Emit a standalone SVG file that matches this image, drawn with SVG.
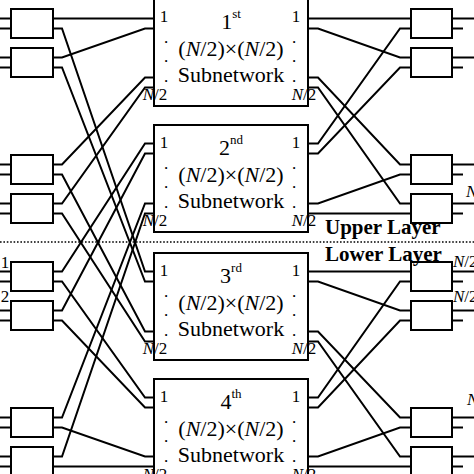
<svg xmlns="http://www.w3.org/2000/svg" width="474" height="474" viewBox="0 0 474 474">
<style>
.bx{fill:#fff;stroke:#000;stroke-width:2}
.ln{fill:none;stroke:#000;stroke-width:2}
.t{font-family:"Liberation Serif","Times New Roman",serif;fill:#000}
.c{font-size:22px;text-anchor:middle}
.s{font-size:17px}
.m{text-anchor:middle}
.i{font-style:italic}
.lay{font-size:21px;font-weight:bold}
</style>
<rect width="474" height="474" fill="#fff"/>
<line x1="0" y1="242" x2="474" y2="242" stroke="#000" stroke-width="1.5" stroke-dasharray="1.6 1.8"/>
<g id="connectors" class="ln">
<!-- left inputs -->
<path d="M0,18.5H11M0,28.5H11M0,57.5H11M0,67.5H11M0,164.5H11M0,174.5H11M0,203.5H11M0,213.5H11M0,271.5H11M0,281.5H11M0,310.5H11M0,320.5H11M0,417.5H11M0,427.5H11M0,456.5H11M0,466.5H11"/>
<!-- left switches to subnetworks -->
<path d="M53,18.5H154"/>
<path d="M53,57.5H62L145,28.5H154"/>
<path d="M53,164.5H62L145,77.5H154"/>
<path d="M53,203.5H62L145,87.5H154"/>
<path d="M53,28.5H62L145,271.5H154"/>
<path d="M53,67.5H62L145,281.5H154"/>
<path d="M53,174.5H62L145,331.5H154"/>
<path d="M53,213.5H62L145,341.5H154"/>
<path d="M53,271.5H62L145,143.5H154"/>
<path d="M53,310.5H62L145,153.5H154"/>
<path d="M53,417.5H62L145,203.5H154"/>
<path d="M53,456.5H62L145,213.5H154"/>
<path d="M53,281.5H62L145,397.5H154"/>
<path d="M53,320.5H62L145,407.5H154"/>
<path d="M53,427.5H62L145,456.5H154"/>
<path d="M53,466.5H154"/>
<!-- subnetworks to right switches -->
<path d="M308,18.5H411"/>
<path d="M308,28.5H318L400,57.5H411"/>
<path d="M308,77.5H318L400,164.5H411"/>
<path d="M308,87.5H318L400,203.5H411"/>
<path d="M308,143.5H318L400,28.5H411"/>
<path d="M308,153.5H318L400,67.5H411"/>
<path d="M308,203.5H318L400,174.5H411"/>
<path d="M308,213.5H411"/>
<path d="M308,271.5H411"/>
<path d="M308,281.5H318L400,310.5H411"/>
<path d="M308,331.5H318L400,417.5H411"/>
<path d="M308,341.5H318L400,456.5H411"/>
<path d="M308,397.5H318L400,281.5H411"/>
<path d="M308,407.5H318L400,320.5H411"/>
<path d="M308,456.5H318L400,427.5H411"/>
<path d="M308,466.5H411"/>
<!-- right outputs -->
<path d="M452,18.5H474M452,28.5H463M452,57.5H474M452,67.5H463M452,164.5H474M452,174.5H463M452,203.5H474M452,213.5H463M452,271.5H474M452,281.5H463M452,310.5H474M452,320.5H463M452,417.5H474M452,427.5H463M452,456.5H474M452,466.5H463"/>
</g>
<g id="ls1"><rect class="bx" x="11" y="9" width="42" height="29"/></g>
<g id="ls2"><rect class="bx" x="11" y="48" width="42" height="29"/></g>
<g id="ls3"><rect class="bx" x="11" y="155" width="42" height="29"/></g>
<g id="ls4"><rect class="bx" x="11" y="194" width="42" height="29"/></g>
<g id="ls5"><rect class="bx" x="11" y="262" width="42" height="29"/></g>
<g id="ls6"><rect class="bx" x="11" y="301" width="42" height="29"/></g>
<g id="ls7"><rect class="bx" x="11" y="408" width="42" height="29"/></g>
<g id="ls8"><rect class="bx" x="11" y="447" width="42" height="29"/></g>
<g id="rs1"><rect class="bx" x="411" y="9" width="41" height="29"/></g>
<g id="rs2"><rect class="bx" x="411" y="48" width="41" height="29"/></g>
<g id="rs3"><rect class="bx" x="411" y="155" width="41" height="29"/></g>
<g id="rs4"><rect class="bx" x="411" y="194" width="41" height="29"/></g>
<g id="rs5"><rect class="bx" x="411" y="262" width="41" height="29"/></g>
<g id="rs6"><rect class="bx" x="411" y="301" width="41" height="29"/></g>
<g id="rs7"><rect class="bx" x="411" y="408" width="41" height="29"/></g>
<g id="rs8"><rect class="bx" x="411" y="447" width="41" height="29"/></g>
<g id="sub1">
<rect class="bx" x="154" y="-1" width="154" height="107"/>
<text class="t c" x="231" y="29">1<tspan font-size="13" dy="-11">st</tspan></text>
<text class="t c" x="231" y="56">(<tspan class="i">N</tspan>/2)×(<tspan class="i">N</tspan>/2)</text>
<text class="t c" x="231" y="82">Subnetwork</text>
<text class="t s m" x="164" y="22">1</text><text class="t s m" x="296" y="22">1</text>
<text class="t s m" x="166" y="43">.</text><text class="t s m" x="166" y="62">.</text><text class="t s m" x="166" y="82">.</text>
<text class="t s m" x="294" y="43">.</text><text class="t s m" x="294" y="62">.</text><text class="t s m" x="294" y="82">.</text>
<text class="t s m" x="155" y="100"><tspan class="i">N</tspan>/2</text><text class="t s m" x="304" y="100"><tspan class="i">N</tspan>/2</text>
</g>
<g id="sub2">
<rect class="bx" x="154" y="125" width="154" height="107"/>
<text class="t c" x="231" y="155">2<tspan font-size="13" dy="-11">nd</tspan></text>
<text class="t c" x="231" y="182">(<tspan class="i">N</tspan>/2)×(<tspan class="i">N</tspan>/2)</text>
<text class="t c" x="231" y="208">Subnetwork</text>
<text class="t s m" x="164" y="148">1</text><text class="t s m" x="296" y="148">1</text>
<text class="t s m" x="166" y="169">.</text><text class="t s m" x="166" y="188">.</text><text class="t s m" x="166" y="208">.</text>
<text class="t s m" x="294" y="169">.</text><text class="t s m" x="294" y="188">.</text><text class="t s m" x="294" y="208">.</text>
<text class="t s m" x="155" y="226"><tspan class="i">N</tspan>/2</text><text class="t s m" x="304" y="226"><tspan class="i">N</tspan>/2</text>
</g>
<g id="sub3">
<rect class="bx" x="154" y="253" width="154" height="107"/>
<text class="t c" x="231" y="283">3<tspan font-size="13" dy="-11">rd</tspan></text>
<text class="t c" x="231" y="310">(<tspan class="i">N</tspan>/2)×(<tspan class="i">N</tspan>/2)</text>
<text class="t c" x="231" y="336">Subnetwork</text>
<text class="t s m" x="164" y="276">1</text><text class="t s m" x="296" y="276">1</text>
<text class="t s m" x="166" y="297">.</text><text class="t s m" x="166" y="316">.</text><text class="t s m" x="166" y="336">.</text>
<text class="t s m" x="294" y="297">.</text><text class="t s m" x="294" y="316">.</text><text class="t s m" x="294" y="336">.</text>
<text class="t s m" x="155" y="354"><tspan class="i">N</tspan>/2</text><text class="t s m" x="304" y="354"><tspan class="i">N</tspan>/2</text>
</g>
<g id="sub4">
<rect class="bx" x="154" y="379" width="154" height="107"/>
<text class="t c" x="231" y="409">4<tspan font-size="13" dy="-11">th</tspan></text>
<text class="t c" x="231" y="436">(<tspan class="i">N</tspan>/2)×(<tspan class="i">N</tspan>/2)</text>
<text class="t c" x="231" y="462">Subnetwork</text>
<text class="t s m" x="164" y="402">1</text><text class="t s m" x="296" y="402">1</text>
<text class="t s m" x="166" y="423">.</text><text class="t s m" x="166" y="442">.</text><text class="t s m" x="166" y="462">.</text>
<text class="t s m" x="294" y="423">.</text><text class="t s m" x="294" y="442">.</text><text class="t s m" x="294" y="462">.</text>
<text class="t s m" x="155" y="480"><tspan class="i">N</tspan>/2</text><text class="t s m" x="304" y="480"><tspan class="i">N</tspan>/2</text>
</g>
<g id="labels">
<text class="t lay" x="325" y="234">Upper Layer</text>
<text class="t lay" x="325" y="261">Lower Layer</text>
<text class="t s m" x="5" y="268">1</text>
<text class="t s m" x="5" y="302">2</text>
<text class="t s" x="466" y="197"><tspan class="i">N</tspan>/2</text>
<text class="t s" x="453" y="267"><tspan class="i">N</tspan>/2</text>
<text class="t s" x="453" y="302"><tspan class="i">N</tspan>/2</text>
<text class="t s" x="467" y="405"><tspan class="i">N</tspan>/2</text>
</g>
</svg>
